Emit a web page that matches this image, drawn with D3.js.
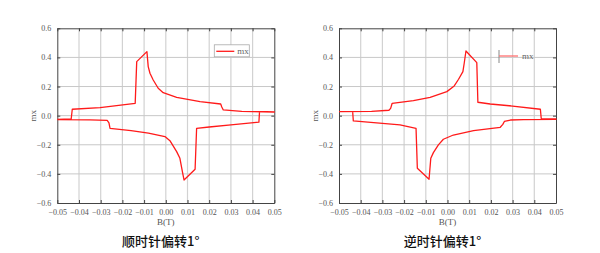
<!DOCTYPE html>
<html>
<head>
<meta charset="utf-8">
<script src="https://cdn.jsdelivr.net/npm/d3@7"></script>
<style>
  body { margin: 0; background: #fff; }
  svg { display: block; }
</style>
</head>
<body>
<div id="chart"></div>
<script>
// tick values
var xTicks = [-0.05, -0.04, -0.03, -0.02, -0.01, 0, 0.01, 0.02, 0.03, 0.04, 0.05]
var yTicks = [-0.6, -0.4, -0.2, 0, 0.2, 0.4, 0.6]

// 顺时针偏转1° : B (T) and mx, read along the loop
var cwB = [-0.05, -0.035, -0.027, -0.0262, -0.0257, -0.016, -0.008, -0.0004, 0.0019, 0.005, 0.0065, 0.0078, 0.0084,
           0.0135, 0.0142, 0.02, 0.03, 0.0429, 0.0432, 0.05,
           0.05, 0.035, 0.0265, 0.0258, 0.0253, 0.0158, 0.005, -0.0012, -0.0035, -0.0058, -0.0073, -0.0081, -0.0087,
           -0.0134, -0.0141, -0.0303, -0.0431, -0.0436, -0.05]
var cwM = [-0.027, -0.029, -0.033, -0.05, -0.087, -0.103, -0.12, -0.144, -0.172, -0.247, -0.293, -0.396, -0.442,
           -0.368, -0.087, -0.078, -0.063, -0.045, 0.028, 0.025,
           0.025, 0.03, 0.039, 0.06, 0.08, 0.096, 0.126, 0.158, 0.188, 0.245, 0.291, 0.337, 0.44,
           0.371, 0.085, 0.055, 0.044, -0.023, -0.025]

// 逆时针偏转1°
var ccwB = [-0.05, -0.035, -0.027, -0.0262, -0.0255, -0.0157, -0.008, -0.0003, 0.0031, 0.0051, 0.0071, 0.0077, 0.0085,
            0.0135, 0.014, 0.0197, 0.03, 0.0428, 0.0432, 0.05,
            0.05, 0.035, 0.029, 0.0262, 0.0255, 0.0243, 0.012, 0.0027, -0.0019, -0.0042, -0.0065, -0.0077, -0.0085,
            -0.0139, -0.0145, -0.0219, -0.0434, -0.0437, -0.05]
var ccwM = [0.027, 0.03, 0.037, 0.05, 0.085, 0.103, 0.126, 0.165, 0.204, 0.25, 0.302, 0.36, 0.444,
            0.364, 0.092, 0.08, 0.066, 0.044, -0.02, -0.023,
            -0.025, -0.027, -0.03, -0.04, -0.06, -0.08, -0.103, -0.133, -0.162, -0.201, -0.254, -0.293, -0.437,
            -0.361, -0.087, -0.064, -0.036, 0.027, 0.027]

var titles = ["顺时针偏转1°", "逆时针偏转1°"]
var seriesName = "mx"

var width = 600, height = 253

var svg = d3.select("#chart").append("svg")
    .attr("width", width)
    .attr("height", height)

var tickFont = "'Liberation Serif', 'DejaVu Serif', serif"

function drawPanel(left, B, M, title, legendBoxed, legendY) {
    var pw = 217, top = 28.3, ph = 174.7

    var x = d3.scaleLinear().domain([-0.05, 0.05]).range([left, left + pw])
    var y = d3.scaleLinear().domain([-0.6, 0.6]).range([top + ph, top])

    var g = svg.append("g")

    // grid
    g.selectAll(".vg").data(xTicks.slice(1, -1)).enter().append("line")
        .attr("x1", d => x(d)).attr("x2", d => x(d))
        .attr("y1", top).attr("y2", top + ph)
        .attr("stroke", "#d2d2d2").attr("stroke-width", 1.2)
    g.selectAll(".hg").data(yTicks.slice(1, -1)).enter().append("line")
        .attr("x1", left).attr("x2", left + pw)
        .attr("y1", d => y(d)).attr("y2", d => y(d))
        .attr("stroke", "#c8c8c8").attr("stroke-width", 1)

    // axes, ticks pointing inward on all four sides
    var fmtX = d3.format(".2f"), fmtY = d3.format(".1f")
    var bottom = g.append("g").attr("transform", "translate(0," + (top + ph) + ")")
        .call(d3.axisBottom(x).tickValues(xTicks).tickSizeInner(-3).tickSizeOuter(0).tickPadding(6).tickFormat(fmtX))
    var leftAx = g.append("g").attr("transform", "translate(" + left + ",0)")
        .call(d3.axisLeft(y).tickValues(yTicks).tickSizeInner(-3).tickSizeOuter(0).tickPadding(6).tickFormat(fmtY))
    var topAx = g.append("g").attr("transform", "translate(0," + top + ")")
        .call(d3.axisTop(x).tickValues(xTicks).tickSizeInner(-3).tickSizeOuter(0).tickFormat(""))
    var rightAx = g.append("g").attr("transform", "translate(" + (left + pw) + ",0)")
        .call(d3.axisRight(y).tickValues(yTicks).tickSizeInner(-3).tickSizeOuter(0).tickFormat(""))

    ;[bottom, leftAx, topAx, rightAx].forEach(function(a) {
        a.select(".domain").attr("stroke", "#444").attr("stroke-width", 1)
        a.selectAll(".tick line").attr("stroke", "#444")
        a.selectAll("text").attr("font-family", tickFont).attr("font-size", "8px").attr("fill", "#555")
    })

    // curve
    var pts = B.map((b, i) => [b, M[i]])
    var line = d3.line().x(d => x(d[0])).y(d => y(d[1]))
    g.append("path")
        .datum(pts)
        .attr("d", line)
        .attr("fill", "none")
        .attr("stroke", "#ff1a1a")
        .attr("stroke-width", 1.3)
        .attr("stroke-linejoin", "round")

    // axis labels
    g.append("text")
        .attr("x", left + pw / 2).attr("y", 225)
        .attr("text-anchor", "middle")
        .attr("font-family", tickFont).attr("font-size", "9px").attr("fill", "#555")
        .text("B(T)")
    g.append("text")
        .attr("transform", "translate(" + (left - 21) + "," + y(0) + ") rotate(-90)")
        .attr("text-anchor", "middle")
        .attr("font-family", tickFont).attr("font-size", "9px").attr("fill", "#555")
        .text(seriesName)

    // legend
    var lx = left + 157
    if (legendBoxed) {
        g.append("rect")
            .attr("x", lx).attr("y", legendY - 6.5).attr("width", 35).attr("height", 12)
            .attr("fill", "#fff").attr("stroke", "#aaa").attr("stroke-width", 0.8)
        g.append("line")
            .attr("x1", lx + 2).attr("x2", lx + 20).attr("y1", legendY).attr("y2", legendY)
            .attr("stroke", "#ff1a1a").attr("stroke-width", 1.3)
        g.append("text")
            .attr("x", lx + 23).attr("y", legendY + 3)
            .attr("font-family", tickFont).attr("font-size", "9px").attr("fill", "#666")
            .text(seriesName)
    } else {
        g.append("line")
            .attr("x1", lx + 3).attr("x2", lx + 3).attr("y1", legendY - 6).attr("y2", legendY + 7)
            .attr("stroke", "#888").attr("stroke-width", 1)
        g.append("line")
            .attr("x1", lx + 3).attr("x2", lx + 22).attr("y1", legendY).attr("y2", legendY)
            .attr("stroke", "#ff7070").attr("stroke-width", 1.3)
        g.append("text")
            .attr("x", lx + 26).attr("y", legendY + 3)
            .attr("font-family", tickFont).attr("font-size", "9px").attr("fill", "#666")
            .text(seriesName)
    }

    // title below
    svg.append("text")
        .attr("x", left + pw / 2 - 5).attr("y", 246)
        .attr("text-anchor", "middle")
        .attr("font-family", "'Noto Sans CJK SC', sans-serif")
        .attr("font-size", "13px").attr("font-weight", 500).attr("fill", "#111")
        .text(title)
}

drawPanel(57.3, cwB, cwM, titles[0], true, 51.3)
drawPanel(339, ccwB, ccwM, titles[1], false, 56)
</script>
</body>
</html>
